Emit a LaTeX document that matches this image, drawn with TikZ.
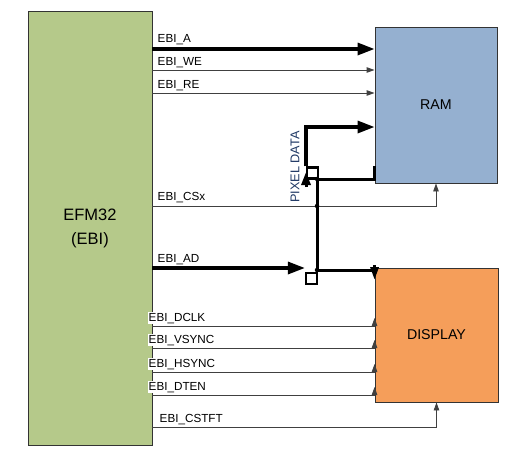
\documentclass[tikz,border=0pt]{standalone}
\usepackage{fontspec}
\setmainfont{Liberation Sans}
\usetikzlibrary{arrows.meta}
\definecolor{efmgreen}{RGB}{181,201,138}
\definecolor{ramblue}{RGB}{149,176,208}
\definecolor{disporange}{RGB}{245,158,90}
\definecolor{busnavy}{RGB}{31,56,100}
\begin{document}
\begin{tikzpicture}[x=1pt,y=-1pt,
				blk/.style={draw=black!80, line width=0.9pt, inner sep=0pt},
				sig/.style={draw=black!75, line width=0.9pt, -{Triangle[length=8pt,width=5.5pt]}},
				bus/.style={line width=3.2pt, -{Triangle[length=17pt,width=12pt]}},
				lbl/.style={anchor=base west, font=\fontsize{11.7}{14}\selectfont, inner sep=0.5pt},
				jct/.style={draw, line width=2.2pt, minimum size=11pt, inner sep=0pt},
				dot/.style={circle, fill, inner sep=0pt, minimum size=4.5pt}
			]
			\useasboundingbox (0,0) rectangle (522,461);
			\node[blk, fill=efmgreen, minimum width=124pt, minimum height=434pt, align=center, font=\fontsize{16.5}{24}\selectfont] (efm) at (90,228) {EFM32\\(EBI)};
			\node[blk, fill=ramblue, minimum width=122pt, minimum height=156pt, font=\fontsize{14.2}{16}\selectfont] (ram) at (436,105) {RAM};
			\node[blk, fill=disporange, minimum width=123pt, minimum height=134pt, font=\fontsize{14.2}{16}\selectfont] (disp) at (436.5,335) {DISPLAY};
			\node[jct] (sqr) at (312.5,173) {};
			\node[jct] (sqd) at (311.5,278.5) {};
			\coordinate (ja) at (317,179);
			\coordinate (jb) at (317,206);
			\coordinate (jc) at (317,270);
			\draw[bus] (efm.east |- 0,49) -- (ram.west |- 0,49);
			\draw[sig] (efm.east |- 0,70) -- (ram.west |- 0,70);
			\draw[sig] (efm.east |- 0,93) -- (ram.west |- 0,93);
			\draw[sig] (efm.east |- jb) -| (ram.south);
			\draw[bus] (efm.east |- 0,268) -- (sqd.west |- 0,268);
			\draw[bus] (sqr.north west) -- (sqr.north west |- 0,127) -- (ram.west |- 0,127);
			\draw[line width=3pt, -{Triangle[length=13pt,width=9pt]}] (306,187) -- (306,172);
			\draw[line width=3pt] (ram.west |- 0,166) -- (ram.west |- ja) -- (ja) -- (jc) -- (disp.west |- jc);
			\draw[line width=3pt, -{Triangle[length=13pt,width=8pt]}] (disp.west |- 0,265) -- (disp.west |- 0,280);
			\draw[sig] (efm.east |- 0,427) -| (disp.south);
			\foreach \y/\t in {326/DCLK,348/VSYNC,372/HSYNC,395/DTEN} {
				\draw[sig] (efm.east |- 0,\y) -- (disp.west |- 0,\y) -- ++(0,-8);
				\node[lbl, fill=white] (l\t) at (148,\y-5) {EBI\_\t};
			}
			\foreach \p in {ja,jb,jc} \node[dot] at (\p) {};
			\node[lbl] (lA) at (157,42) {EBI\_A};
			\node[lbl] (lWE) at (157,65) {EBI\_WE};
			\node[lbl] (lRE) at (157,88) {EBI\_RE};
			\node[lbl] (lCSx) at (157,200) {EBI\_CSx};
			\node[lbl] (lAD) at (157,262) {EBI\_AD};
			\node[lbl] (lCSTFT) at (159,422) {EBI\_CSTFT};
			\node[rotate=90, text=busnavy, font=\fontsize{12.7}{14}\selectfont] (lpix) at (295,167) {PIXEL DATA};
		\end{tikzpicture}
\end{document}
